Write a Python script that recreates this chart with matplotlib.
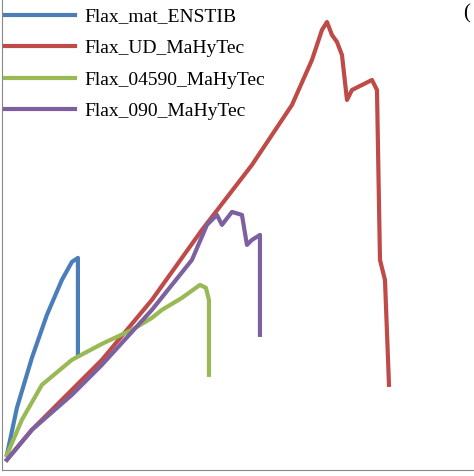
import matplotlib.pyplot as plt
import numpy as np

# values (arbitrary units, no tick labels shown)
blue_x = [5, 15, 30, 45, 60, 70, 76, 76]
blue_y = [15, 62, 112, 155, 190, 208, 212, 115]

green_x = [5, 20, 40, 70, 100, 130, 150, 160, 180, 198, 204, 207, 207]
green_y = [15, 50, 85, 110, 126, 140, 152, 160, 172, 185, 182, 170, 95]

red_x = [5, 30, 60, 100, 150, 200, 250, 290, 310, 320, 325, 330, 335, 340,
         345, 350, 360, 370, 375, 378, 383, 387]
red_y = [10, 40, 70, 110, 170, 240, 305, 365, 410, 440, 448, 435, 428, 415,
         370, 380, 385, 390, 380, 210, 190, 85]

purple_x = [5, 30, 70, 100, 150, 190, 205, 215, 220, 230, 240, 245, 250, 258, 258]
purple_y = [10, 40, 75, 105, 160, 210, 245, 255, 245, 258, 255, 225, 230, 235, 135]

labels = ["Flax_mat_ENSTIB", "Flax_UD_MaHyTec", "Flax_04590_MaHyTec", "Flax_090_MaHyTec"]
colors = ["#4a7ebb", "#be4b48", "#98b954", "#7d60a0"]

plt.rcParams['font.family'] = ['Liberation Serif', 'DejaVu Serif']
fig = plt.figure(figsize=(4.74, 4.76), dpi=100)
ax = fig.add_axes([0.004, 0.013, 0.996, 0.987])

series = [(blue_x, blue_y), (red_x, red_y), (green_x, green_y), (purple_x, purple_y)]
for (x, y), lab, c in zip(series, labels, colors):
    ax.plot(x, y, color=c, lw=3, label=lab)

ax.set_xlim(0, 472)
ax.set_ylim(0, 470)
ax.set_xticks([])
ax.set_yticks([])
for s in ["top", "right"]:
    ax.spines[s].set_visible(False)
ax.spines["left"].set_color("#888888")
ax.spines["bottom"].set_color("#888888")

ax.legend(loc="upper left", bbox_to_anchor=(-0.01, 1.0), frameon=False,
          fontsize=14, handlelength=3.6, handletextpad=0.5, labelspacing=0.72,
          borderaxespad=0)
ax.text(0.985, 0.99, "(", transform=ax.transAxes, fontsize=15, ha="center", va="top")

fig.savefig("out.png", dpi=100)
